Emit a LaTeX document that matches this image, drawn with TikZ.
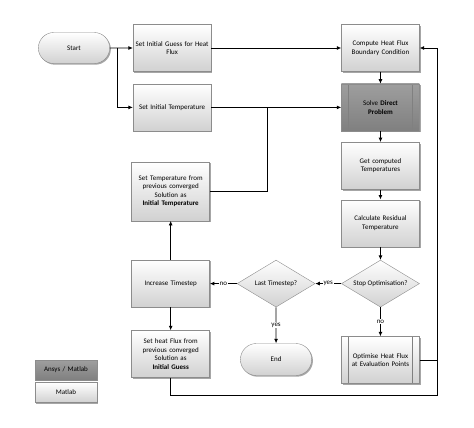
\documentclass[tikz,border=0pt]{standalone}
\usepackage{fontspec}
\setmainfont{Carlito}
\usetikzlibrary{arrows.meta,calc,positioning,shapes.geometric,shapes.misc,shadows}

\begin{document}
\begin{tikzpicture}[x=1pt,y=1pt,font=\fontsize{7}{8.6}\selectfont,
  shadowed/.style={drop shadow={shadow xshift=1.2pt,shadow yshift=-1.2pt,fill=black!35,opacity=1}},
  box/.style={rectangle,draw=black!45,minimum width=78pt,minimum height=47pt,text width=76pt,align=center,inner sep=1pt,top color=white,bottom color=black!18,shadowed},
  darkbox/.style={box,top color=black!38,bottom color=black!50},
  subline/.style={path picture={
    \draw[black!50] ([xshift=7pt]path picture bounding box.north west) -- ([xshift=7pt]path picture bounding box.south west);
    \draw[black!50] ([xshift=-7pt]path picture bounding box.north east) -- ([xshift=-7pt]path picture bounding box.south east);}},
  term/.style={rounded rectangle,draw=black!45,minimum width=78pt,minimum height=31pt,top color=white,bottom color=black!18,shadowed},
  decide/.style={diamond,aspect=1.66,draw=black!45,inner sep=0pt,minimum width=78pt,minimum height=47pt,top color=white,bottom color=black!18},
  legend/.style={box,minimum width=62pt,minimum height=20pt,text width=58pt},
  lbl/.style={fill=white,inner sep=0.6pt}]

\useasboundingbox (0,0) rectangle (474,-428);

% Nodes
\node[term] (start) at (74,-48) {Start};
\node[box,right=23pt of start] (guess) {Set Initial Guess for Heat\\Flux};
\node[box,right=130pt of guess] (flux) {Compute Heat Flux\\Boundary Condition};
\node[box,below=12pt of guess] (initT) {Set Initial Temperature};
\node[darkbox,subline,below=12pt of flux] (solve) {Solve \textbf{Direct}\\\textbf{Problem}};
\node[box,below=11pt of solve] (getT) {Get computed\\Temperatures};
\node[box,below=10pt of getT] (resid) {Calculate Residual\\Temperature};
\node[decide,below=13pt of resid] (stop) {Stop Optimisation?};
\node[decide,left=26pt of stop] (last) {Last Timestep?};
\node[box,left=27pt of last] (incr) {Increase Timestep};
\node[box,minimum height=59pt,above=39pt of incr] (setT) {Set Temperature from\\previous converged\\Solution as\\\textbf{Initial Temperature}};
\node[box,below=23pt of incr] (hflux) {Set heat Flux from\\previous converged\\Solution as\\\textbf{Initial Guess}};
\node[term,minimum height=32pt,below=36pt of last] (stopend) {End};
\node[box,subline,below=29pt of stop] (opt) {Optimise Heat Flux\\at Evaluation Points};

% legend
\node[legend,top color=black!38,bottom color=black!50] (ansys) at (66,-370) {Ansys / Matlab};
\node[legend,below=2pt of ansys] (matlab) {Matlab};

% junctions
\coordinate (j0) at ([xshift=8pt]start.east);
\coordinate (j1) at ([xshift=56pt]initT.east);
\coordinate (j2) at ([xshift=18pt]opt.east);

%arcs
\begin{scope}[thick,every edge/.style={draw,-{Latex[length=4.5pt,width=4pt]}}]
\path (start) edge (guess);
\draw[-{Latex[length=4.5pt,width=4pt]}] (j0) |- (initT.west);
\path (guess) edge (flux);
\path (initT) edge (solve);
\draw (setT.east) -| (j1);
\path (flux) edge (solve);
\path (solve) edge (getT);
\path (getT) edge (resid);
\path (resid) edge (stop);
\path (stop) edge node[lbl] {yes} (last);
\path (last) edge node[lbl] {no} (incr);
\path (last) edge node[lbl] {yes} (stopend);
\path (stop) edge node[lbl] {no} (opt);
\path (incr) edge (setT);
\path (incr) edge (hflux);
\draw[-{Latex[length=4.5pt,width=4pt]}] (opt.east) -- (j2) |- (flux.east);
\draw (hflux.south) -- ++(0,-18pt) -| (j2);
\end{scope}

\end{tikzpicture}
\end{document}
